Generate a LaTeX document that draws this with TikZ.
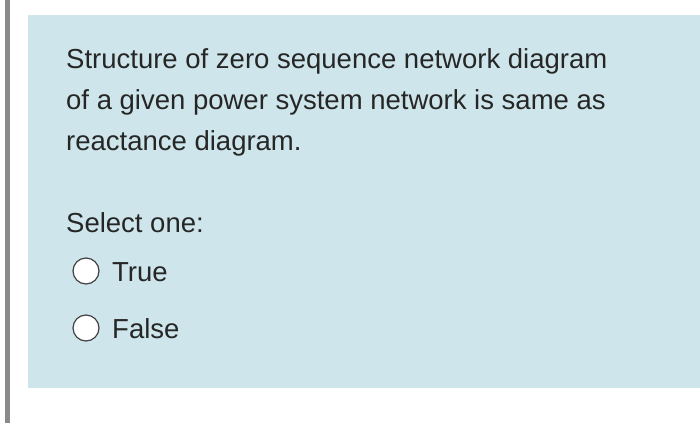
\documentclass[tikz,border=0pt]{standalone}
\usepackage{fontspec}
\setmainfont{Liberation Sans}
\definecolor{boxbg}{HTML}{CEE6EB}
\definecolor{bar}{HTML}{8A8A8A}
\begin{document}
\begin{tikzpicture}[x=1pt,y=-1pt,
  txt/.style={anchor=base west,inner sep=0pt,font=\fontsize{27.5}{32}\selectfont,text=black!85},
  radio/.style={circle,draw=black!75,line width=1.2pt,fill=white,minimum size=26pt,inner sep=0pt}]
\useasboundingbox (0,0) rectangle (700,423);
\fill[white] (0,0) rectangle (700,423);
\fill[bar] (5,0) rectangle (10,423);
\fill[boxbg] (28,15) rectangle (700,388);
\node[txt] (l1) at (66,68) {Structure of zero sequence network diagram};
\node[txt] (l2) at (66,109) {of a given power system network is same as};
\node[txt] (l3) at (66,150) {reactance diagram.};
\node[txt] (sel) at (66,232) {Select one:};
\node[radio] (r1) at (86,271) {};
\node[txt] (t1) at (112,281) {True};
\node[radio] (r2) at (86,328) {};
\node[txt] (t2) at (112,338) {False};
\end{tikzpicture}
\end{document}
